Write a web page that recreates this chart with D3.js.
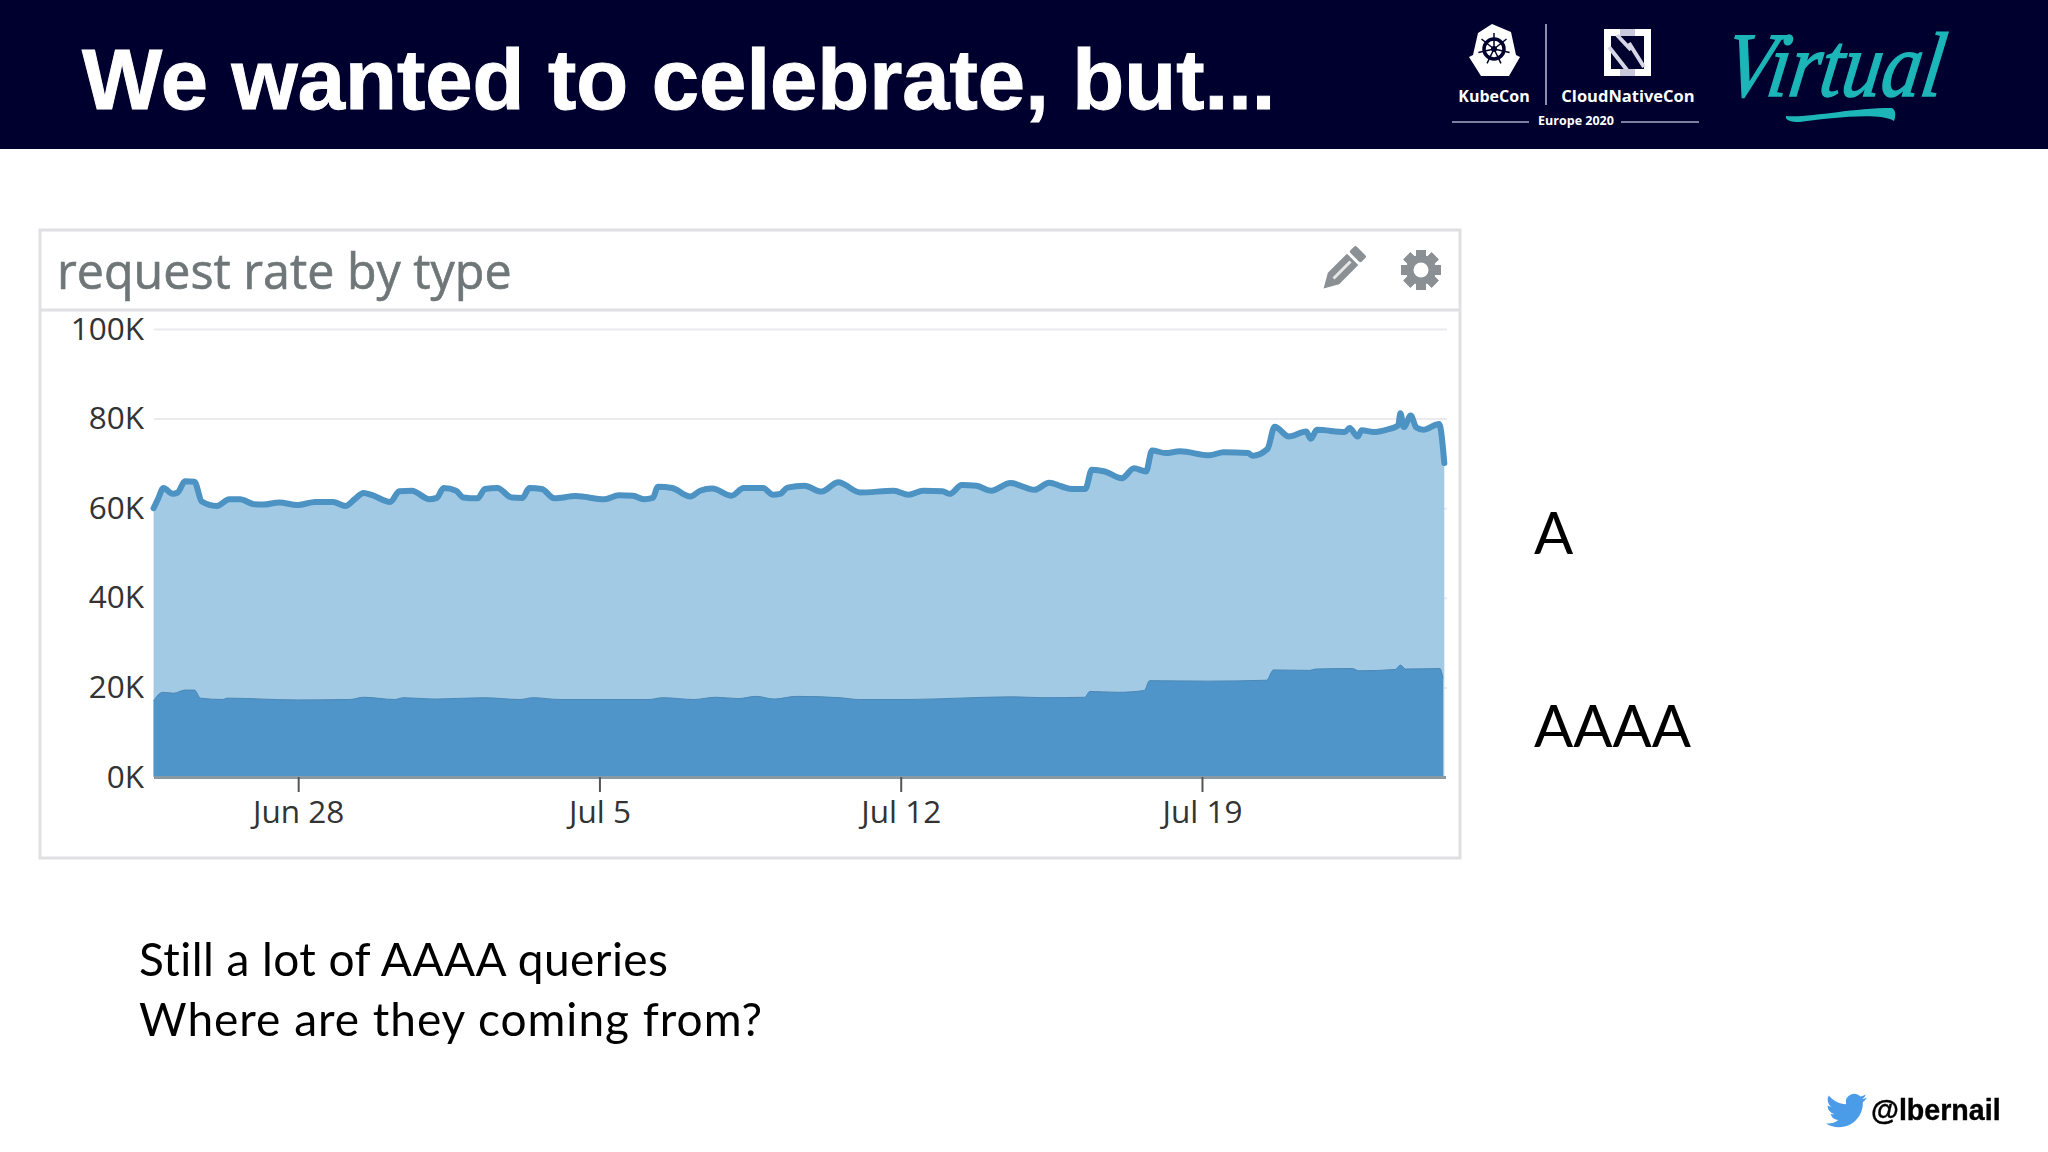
<!DOCTYPE html>
<html>
<head>
<meta charset="utf-8">
<script src="https://cdn.jsdelivr.net/npm/d3@7"></script>
<style>
html, body { margin: 0; padding: 0; background: #fff; }
svg { display: block; filter: blur(0.5px); }
.chart-font { font-family: "Open Sans", sans-serif; }
</style>
</head>
<body>
<svg id="slide" width="2048" height="1152"></svg>
<script>
// days are counted from Jun 28, values are in thousands of requests
const tickDays = [0, 7, 14, 21];
const tickLabels = ['Jun 28', 'Jul 5', 'Jul 12', 'Jul 19'];
const yTicks = [0, 20, 40, 60, 80, 100];

const totalDays = [-3.36, -3.26, -3.13, -2.92, -2.8, -2.63, -2.41, -2.24, -1.89, -1.6, -1.35, -1.03, -0.81, -0.44, -0.02, 0.4, 0.81, 1.1, 1.31, 1.52, 1.72, 2.14, 2.35, 2.64, 3.05, 3.22, 3.38, 3.67, 3.84, 4.17, 4.34, 4.63, 4.96, 5.21, 5.37, 5.66, 5.95, 6.45, 7.12, 7.45, 7.78, 8.03, 8.24, 8.36, 8.69, 9.11, 9.34, 9.62, 10.07, 10.35, 10.8, 11.03, 11.2, 11.37, 11.76, 12.16, 12.55, 13.06, 13.84, 14.18, 14.52, 14.97, 15.14, 15.42, 15.76, 16.1, 16.55, 17.11, 17.45, 17.73, 17.96, 18.29, 18.44, 18.74, 19.14, 19.42, 19.7, 19.84, 20.15, 20.49, 21.17, 21.5, 22.07, 22.18, 22.52, 22.69, 23.02, 23.42, 23.53, 23.67, 24.32, 24.43, 24.62, 24.71, 24.99, 25.28, 25.56, 25.61, 25.69, 25.85, 25.98, 26.14, 26.51, 26.63];
const totalValues = [60, 62, 64.5, 63.2, 63.5, 66, 65.9, 61.5, 60.5, 62, 62, 60.9, 60.8, 61.3, 60.7, 61.4, 61.4, 60.5, 62, 63.4, 62.9, 61.4, 63.8, 63.9, 62, 62.3, 64.5, 63.9, 62.4, 62.2, 64.3, 64.5, 62.4, 62.3, 64.5, 64.3, 62.2, 62.7, 62, 62.9, 62.8, 62, 62.3, 64.8, 64.5, 62.6, 63.9, 64.4, 62.8, 64.5, 64.5, 63, 63.2, 64.6, 65, 63.7, 65.8, 63.5, 63.9, 63, 63.9, 63.8, 63.2, 65.2, 65, 63.9, 65.6, 64.1, 65.7, 64.9, 64.3, 64.3, 68.6, 68.2, 66.7, 68.9, 68.2, 72.9, 72.3, 72.7, 71.8, 72.5, 72.3, 71.7, 73.2, 78.2, 76, 77.1, 75.5, 77.5, 77, 77.9, 76, 77.4, 77, 77.5, 78.5, 81.2, 78.1, 80.7, 78, 77.5, 78.8, 70.1];

const aaaaDays = [-3.36, -3.15, -2.89, -2.63, -2.41, -2.27, -1.75, -1.65, -0.04, 1.2, 1.52, 2.24, 2.45, 3.17, 4.31, 5.15, 5.46, 6.08, 8.15, 8.47, 9.19, 9.71, 10.23, 10.64, 11.06, 11.58, 12.59, 13.02, 14.2, 15.34, 16.57, 17.33, 18.28, 18.39, 19.04, 19.66, 19.78, 21.13, 22.5, 22.66, 23.5, 23.64, 24.49, 24.65, 25.49, 25.61, 25.73, 26.53, 26.6];
const aaaaValues = [17, 18.9, 18.7, 19.4, 19.4, 17.6, 17.3, 17.6, 17.2, 17.3, 17.8, 17.3, 17.7, 17.4, 17.7, 17.3, 17.7, 17.3, 17.3, 17.7, 17.3, 17.8, 17.5, 18, 17.4, 18, 17.7, 17.3, 17.3, 17.6, 17.9, 17.7, 17.8, 19.1, 18.9, 19.3, 21.5, 21.4, 21.6, 23.9, 23.8, 24.1, 24.2, 23.7, 24, 25, 24.1, 24.2, 22];

const slideTitle = 'We wanted to celebrate, but...';
const panelTitle = 'request rate by type';
const noteLines = ['Still a lot of AAAA queries', 'Where are they coming from?'];
const noteWidths = [529, 623];

const svg = d3.select('#slide');
const navy = '#00002f';

// header band
svg.append('rect').attr('width', 2048).attr('height', 149).attr('fill', navy);
svg.append('text').text(slideTitle)
    .attr('x', 82).attr('y', 109)
    .attr('font-family', '"Liberation Sans", sans-serif')
    .attr('font-weight', 700).attr('font-size', 85).attr('fill', '#fff')
    .attr('stroke', '#fff').attr('stroke-width', 1);

// conference logos
const logo = svg.append('g').attr('fill', '#fff');
logo.append('path')
    .attr('d', 'M1492 24 L1511 32 L1516 55 L1520 57 L1509 76 L1481 76 L1469 57 L1473 55 L1478 33 Z');
logo.append('circle').attr('cx', 1494).attr('cy', 49).attr('r', 10)
    .attr('fill', 'none').attr('stroke', navy).attr('stroke-width', 3.5);
logo.append('circle').attr('cx', 1494).attr('cy', 49).attr('r', 3).attr('fill', navy);
logo.selectAll('line.spoke').data(d3.range(7)).join('line')
    .attr('x1', 1494).attr('y1', 49)
    .attr('x2', d => 1494 + 16 * Math.sin(d * 2 * Math.PI / 7))
    .attr('y2', d => 49 - 16 * Math.cos(d * 2 * Math.PI / 7))
    .attr('stroke', navy).attr('stroke-width', 1.5);
logo.append('rect').attr('x', 1604).attr('y', 29).attr('width', 47).attr('height', 47);
logo.append('rect').attr('x', 1611).attr('y', 36).attr('width', 33).attr('height', 33).attr('fill', navy);
logo.append('path').attr('d', 'M1617 35 L1631 50 M1629 43 L1644 67 M1609 47 L1627 70')
    .attr('stroke', '#d6d6e4').attr('stroke-width', 4).attr('fill', 'none');
logo.append('rect').attr('x', 1620).attr('y', 29).attr('width', 15).attr('height', 7).attr('fill', '#c9c9dc');
logo.append('rect').attr('x', 1620).attr('y', 69).attr('width', 15).attr('height', 7).attr('fill', '#c9c9dc');
logo.append('line').attr('x1', 1546).attr('x2', 1546).attr('y1', 24).attr('y2', 105)
    .attr('stroke', '#8e8eb0').attr('stroke-width', 2);
logo.append('line').attr('x1', 1452).attr('x2', 1529).attr('y1', 122).attr('y2', 122)
    .attr('stroke', '#a8a8c8').attr('stroke-width', 1.5);
logo.append('line').attr('x1', 1621).attr('x2', 1699).attr('y1', 122).attr('y2', 122)
    .attr('stroke', '#a8a8c8').attr('stroke-width', 1.5);

const logoText = (label, x, y, size) => logo.append('text').text(label)
    .attr('x', x).attr('y', y).attr('text-anchor', 'middle')
    .attr('font-family', '"Open Sans", sans-serif').attr('font-weight', 700)
    .attr('font-size', size);
logoText('KubeCon', 1494, 102, 16);
logoText('CloudNativeCon', 1628, 102, 16.5);
logoText('Europe 2020', 1576, 125, 12.5);

svg.append('text').text('Virtual')
    .attr('transform', 'translate(1722,96) scale(0.86,1) skewX(-10)')
    .attr('font-family', '"Liberation Serif", serif').attr('font-style', 'italic')
    .attr('font-size', 92).attr('fill', '#1cb5b8')
    .attr('stroke', '#1cb5b8').attr('stroke-width', 1.5);
svg.append('path')
    .attr('d', 'M1786 116 C1810 118 1850 108 1892 108 C1896 110 1896 116 1894 121 C1880 112 1830 118 1800 122 C1790 122 1785 120 1786 116 Z')
    .attr('fill', '#1cb5b8');

// panel frame
svg.append('rect').attr('x', 40).attr('y', 230).attr('width', 1420).attr('height', 628)
    .attr('fill', '#fff').attr('stroke', '#e0e0e3').attr('stroke-width', 3);
svg.append('line').attr('x1', 40).attr('x2', 1460).attr('y1', 310).attr('y2', 310)
    .attr('stroke', '#e0e0e3').attr('stroke-width', 3);
svg.append('text').text(panelTitle).attr('class', 'chart-font')
    .attr('x', 57).attr('y', 289).attr('font-size', 48.4).attr('fill', '#6f7678')
    .attr('stroke', '#6f7678').attr('stroke-width', 0.6);

// pencil icon
const pencil = svg.append('g').attr('transform', 'translate(1342,270) rotate(45)').attr('fill', '#8b9094');
pencil.append('rect').attr('x', -8).attr('y', -27).attr('width', 16).attr('height', 9).attr('rx', 2);
pencil.append('path').attr('d', 'M-8 -15 L8 -15 L8 12 L0 26 L-8 12 Z');
pencil.append('line').attr('x1', 0).attr('x2', 0).attr('y1', -12).attr('y2', 12)
    .attr('stroke', '#e4e6e8').attr('stroke-width', 3);

// gear icon
const gear = svg.append('g').attr('transform', 'translate(1421,270)').attr('fill', '#8b9094');
gear.selectAll('rect').data(d3.range(8)).join('rect')
    .attr('x', -5).attr('y', -20).attr('width', 10).attr('height', 40)
    .attr('transform', d => `rotate(${d * 45})`);
gear.append('circle').attr('r', 15);
gear.append('circle').attr('r', 7.5).attr('fill', '#fff');

// chart scales
const x = d3.scaleLinear().domain([-3.35, 26.6]).range([154, 1443]);
const y = d3.scaleLinear().domain([0, 100]).range([777, 329]);

// grid
const grid = svg.append('g').attr('transform', 'translate(154,0)')
    .call(d3.axisRight(y).tickValues(yTicks.slice(1)).tickSize(1293).tickFormat(''));
grid.select('.domain').remove();
grid.selectAll('line').attr('stroke', '#ebebef').attr('stroke-width', 2);

const totalPoints = d3.zip(totalDays, totalValues);
const aaaaPoints = d3.zip(aaaaDays, aaaaValues);

const area = d3.area().curve(d3.curveMonotoneX).x(d => x(d[0])).y0(y(0)).y1(d => y(d[1]));
const line = d3.line().curve(d3.curveMonotoneX).x(d => x(d[0])).y(d => y(d[1]));

svg.append('path').datum(totalPoints).attr('d', area).attr('fill', '#a3cae5');
svg.append('path').datum(totalPoints).attr('d', line)
    .attr('fill', 'none').attr('stroke', '#4c92c3').attr('stroke-width', 6)
    .attr('stroke-linejoin', 'round').attr('stroke-linecap', 'round');
svg.append('path').datum(aaaaPoints).attr('d', area).attr('fill', '#4f95c9');
svg.append('path').datum(aaaaPoints).attr('d', line)
    .attr('fill', 'none').attr('stroke', '#4a88b5').attr('stroke-width', 1);

// axes
const yAxis = svg.append('g').attr('class', 'chart-font').attr('transform', 'translate(154,0)')
    .call(d3.axisLeft(y).tickValues(yTicks).tickSize(0).tickPadding(10).tickFormat(d => d + 'K'));
yAxis.select('.domain').remove();
yAxis.selectAll('text').attr('font-size', 31.5).attr('fill', '#333')
    .attr('font-family', '"Open Sans", sans-serif');

const xAxis = svg.append('g').attr('class', 'chart-font').attr('transform', 'translate(0,777)')
    .call(d3.axisBottom(x).tickValues(tickDays).tickSize(15).tickPadding(9)
        .tickFormat((d, i) => tickLabels[i]).tickSizeOuter(0));
xAxis.select('.domain').attr('stroke', '#8a9aa5').attr('stroke-width', 3)
    .attr('d', 'M154,0.5H1446');
xAxis.selectAll('line').attr('stroke', '#555').attr('stroke-width', 2);
xAxis.selectAll('text').attr('font-size', 31.5).attr('fill', '#333')
    .attr('font-family', '"Open Sans", sans-serif');

// series names and notes
const bodyFont = 'Lato, sans-serif';
svg.append('text').text('A').attr('x', 1534).attr('y', 554)
    .attr('font-family', bodyFont).attr('font-size', 58).attr('fill', '#000');
svg.append('text').text('AAAA').attr('x', 1534).attr('y', 747)
    .attr('font-family', bodyFont).attr('font-size', 58).attr('fill', '#000');
svg.selectAll('text.note').data(noteLines).join('text').attr('class', 'note')
    .text(d => d)
    .attr('x', 139).attr('y', (d, i) => 976 + i * 60)
    .attr('textLength', (d, i) => noteWidths[i]).attr('lengthAdjust', 'spacing')
    .style('font-variant-ligatures', 'none')
    .attr('font-family', bodyFont).attr('font-size', 46).attr('fill', '#000');

// twitter handle
svg.append('path')
    .attr('transform', 'translate(1826,1090) scale(1.71)')
    .attr('fill', '#4a9be8')
    .attr('d', 'M23.953 4.57a10 10 0 01-2.825.775 4.958 4.958 0 002.163-2.723c-.951.555-2.005.959-3.127 1.184a4.92 4.92 0 00-8.384 4.482C7.69 8.095 4.067 6.13 1.64 3.162a4.822 4.822 0 00-.666 2.475c0 1.71.87 3.213 2.188 4.096a4.904 4.904 0 01-2.228-.616v.06a4.923 4.923 0 003.946 4.827 4.996 4.996 0 01-2.212.085 4.936 4.936 0 004.604 3.417 9.867 9.867 0 01-6.102 2.105c-.39 0-.779-.023-1.17-.067a13.995 13.995 0 007.557 2.209c9.053 0 13.998-7.496 13.998-13.985 0-.21 0-.42-.015-.63A9.935 9.935 0 0024 4.59z');
svg.append('text').text('@lbernail').attr('x', 1871).attr('y', 1120)
    .attr('font-family', '"Liberation Sans", sans-serif').attr('font-weight', 700)
    .attr('font-size', 28.6).attr('fill', '#000')
    .attr('stroke', '#000').attr('stroke-width', 0.4);
</script>
</body>
</html>
